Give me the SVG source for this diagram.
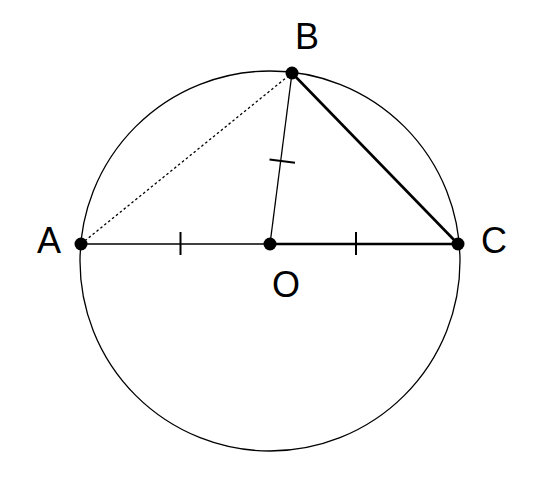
<svg xmlns="http://www.w3.org/2000/svg" width="534" height="479" viewBox="0 0 534 479">
<style>
.thin{stroke:#000;stroke-width:1.3;fill:none}
.thick{stroke:#000;stroke-width:2.6;fill:none}
.dot{fill:#000}
.lbl{font-family:"Liberation Sans",Arial,sans-serif;font-size:36px;fill:#000}
</style>
<rect width="534" height="479" fill="#fff"/>
<circle id="circle" cx="270" cy="261" r="190" class="thin"/>
<g id="connectors">
<line x1="81" y1="244" x2="292" y2="73" class="thin" stroke-dasharray="2.5 2.5"/>
<line x1="81" y1="244" x2="270" y2="244" class="thin"/>
<line x1="270" y1="244" x2="458" y2="244" class="thick"/>
<line x1="270" y1="244" x2="292" y2="73" class="thin"/>
<line x1="292" y1="73" x2="458" y2="244" class="thick"/>
<line x1="180.5" y1="232" x2="180.5" y2="255" class="thick" style="stroke-width:2"/>
<line x1="356" y1="232" x2="356" y2="255" class="thick" style="stroke-width:2"/>
<line x1="269.5" y1="159.5" x2="295" y2="162.8" class="thick" style="stroke-width:2"/>
</g>
<g id="A"><circle cx="81" cy="244" r="6.5" class="dot"/><text x="37" y="253" class="lbl">A</text></g>
<g id="B"><circle cx="292" cy="73" r="6.5" class="dot"/><text x="295" y="49" class="lbl">B</text></g>
<g id="C"><circle cx="458" cy="244" r="6.5" class="dot"/><text x="481" y="253" class="lbl">C</text></g>
<g id="O"><circle cx="270" cy="244" r="6.5" class="dot"/><text x="272" y="297" class="lbl">O</text></g>
</svg>
